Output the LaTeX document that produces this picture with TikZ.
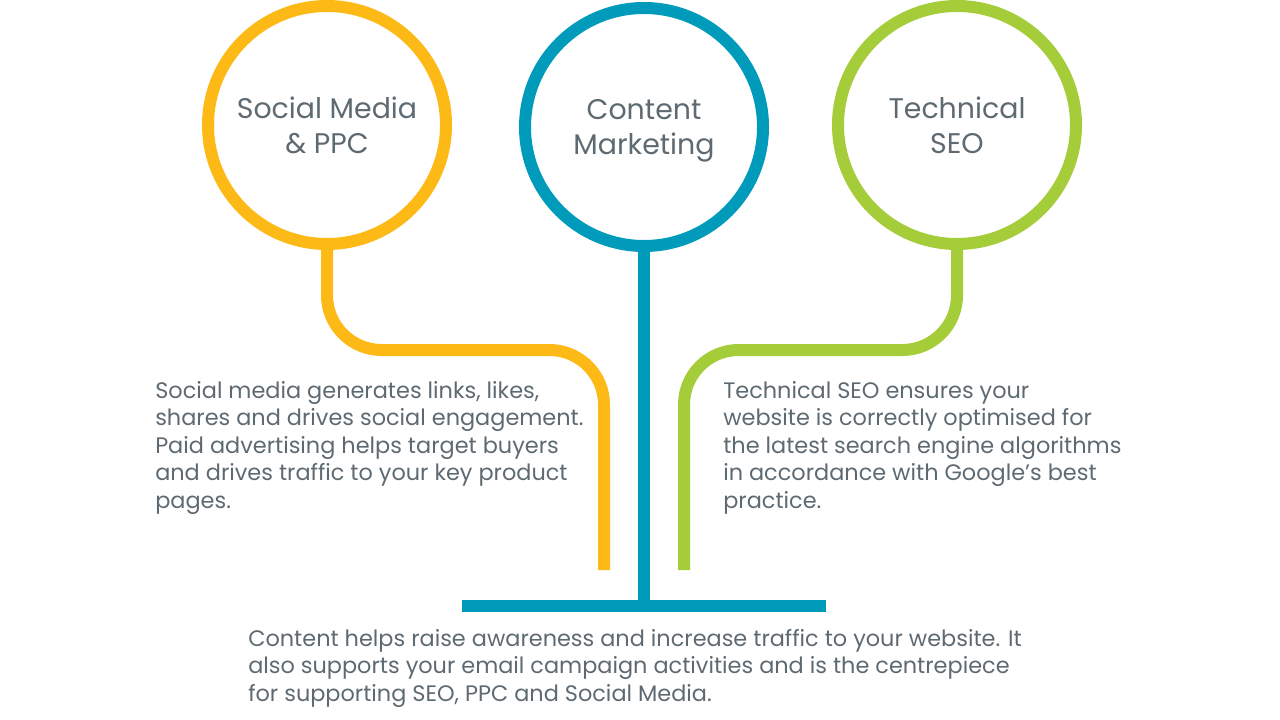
\documentclass[tikz,border=0pt]{standalone}
\usepackage{fontspec}
\setmainfont{Poppins}
\usetikzlibrary{positioning}
\definecolor{socYellow}{HTML}{FDB916}
\definecolor{conBlue}{HTML}{009BBA}
\definecolor{tecGreen}{HTML}{A5CD39}
\definecolor{textGrey}{HTML}{5E6A72}
\tikzstyle{ringBox} = [shape=circle, draw, line width=9pt, minimum size=178.5pt,
	inner sep=0pt, text=textGrey, align=center, font=\fontsize{21.3}{26.3}\selectfont]
\tikzstyle{textBox} = [anchor=north west, inner sep=0pt, text=textGrey, align=left,
	font=\fontsize{16.8}{20.6}\selectfont]
\tikzstyle{stemLine} = [line width=9pt, rounded corners=41pt]

\begin{document}
\begin{tikzpicture}[x=0.75pt, y=-0.75pt]
  \useasboundingbox (0,0) rectangle (1280,720);

  \node (SOC) [ringBox, draw=socYellow] at (327,125) {Social Media\\\& PPC};
  \node (CON) [ringBox, draw=conBlue, text depth=0pt] at (644,127) {\rule{0pt}{14pt}Content\\Marketing};
  \node (TEC) [ringBox, draw=tecGreen] at (957,125) {Technical\\SEO};

  \node (Soc) [textBox] at (155,381) {Social media generates links, likes,\\shares and drives social engagement.\\Paid advertising helps target buyers\\and drives traffic to your key product\\pages.};
  \node (Tec) [textBox] at (723,381) {Technical SEO ensures your\\website is correctly optimised for\\the latest search engine algorithms\\in accordance with Google’s best\\practice.};
  \node (Con) [textBox] at (248,629) {Content helps raise awareness and increase traffic to your website. It\\also supports your email campaign activities and is the centrepiece\\for supporting SEO, PPC and Social Media.};

  \coordinate (socEnd) at (604,570);
  \coordinate (tecEnd) at (684,570);
  \coordinate (barL) at (462,606);
  \coordinate (barR) at (826,606);

  \draw [stemLine, socYellow] (SOC.south) |- (socEnd |- 0,350) -- (socEnd);
  \draw [stemLine, tecGreen] (TEC.south) |- (tecEnd |- 0,350) -- (tecEnd);
  \draw [line width=9pt, conBlue] (CON.south) -- (CON.south |- barL);
  \draw [line width=9pt, conBlue] (barL) -- (barR);

\end{tikzpicture}
\end{document}
